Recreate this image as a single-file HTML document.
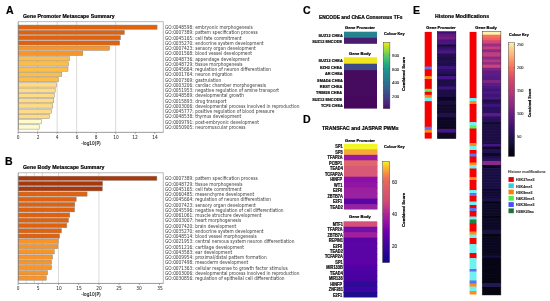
<!DOCTYPE html>
<html><head><meta charset="utf-8"><title>Figure</title>
<style>html,body{margin:0;padding:0;background:#fff;width:550px;height:301px;overflow:hidden;position:relative}svg{display:block;position:absolute;left:0;top:0}.t{position:absolute;white-space:nowrap;line-height:1;transform-origin:0 0}</style>
</head><body>
<svg width="550" height="301" viewBox="0 0 550 301"><line x1="37.62" y1="21.65" x2="37.62" y2="132.35" stroke="#d0d0d0" stroke-width="0.8" />
<line x1="57.14" y1="21.65" x2="57.14" y2="132.35" stroke="#d0d0d0" stroke-width="0.8" />
<line x1="76.66" y1="21.65" x2="76.66" y2="132.35" stroke="#d0d0d0" stroke-width="0.8" />
<line x1="115.70" y1="21.65" x2="115.70" y2="132.35" stroke="#d0d0d0" stroke-width="0.8" />
<rect x="18.20" y="25.05" width="138.90" height="4.3" fill="#E0620F" stroke="#8c857e" stroke-width="0.45"/>
<rect x="18.20" y="30.30" width="106.20" height="4.3" fill="#E0620F" stroke="#8c857e" stroke-width="0.45"/>
<rect x="18.20" y="35.55" width="102.30" height="4.3" fill="#E0620F" stroke="#8c857e" stroke-width="0.45"/>
<rect x="18.20" y="40.80" width="101.50" height="4.3" fill="#E0620F" stroke="#8c857e" stroke-width="0.45"/>
<rect x="18.20" y="46.05" width="91.40" height="4.3" fill="#F7952B" stroke="#8c857e" stroke-width="0.45"/>
<rect x="18.20" y="51.30" width="64.60" height="4.3" fill="#F7952B" stroke="#8c857e" stroke-width="0.45"/>
<rect x="18.20" y="56.55" width="51.40" height="4.3" fill="#FDBE48" stroke="#8c857e" stroke-width="0.45"/>
<rect x="18.20" y="61.80" width="50.40" height="4.3" fill="#FDBE48" stroke="#8c857e" stroke-width="0.45"/>
<rect x="18.20" y="67.05" width="49.80" height="4.3" fill="#FDBE48" stroke="#8c857e" stroke-width="0.45"/>
<rect x="18.20" y="72.30" width="43.60" height="4.3" fill="#FDBE48" stroke="#8c857e" stroke-width="0.45"/>
<rect x="18.20" y="77.55" width="40.30" height="4.3" fill="#FDBE48" stroke="#8c857e" stroke-width="0.45"/>
<rect x="18.20" y="82.80" width="38.10" height="4.3" fill="#FEDB86" stroke="#8c857e" stroke-width="0.45"/>
<rect x="18.20" y="88.05" width="37.00" height="4.3" fill="#FEDB86" stroke="#8c857e" stroke-width="0.45"/>
<rect x="18.20" y="93.30" width="36.20" height="4.3" fill="#FEDB86" stroke="#8c857e" stroke-width="0.45"/>
<rect x="18.20" y="98.55" width="35.60" height="4.3" fill="#FEDB86" stroke="#8c857e" stroke-width="0.45"/>
<rect x="18.20" y="103.80" width="34.60" height="4.3" fill="#FEDB86" stroke="#8c857e" stroke-width="0.45"/>
<rect x="18.20" y="109.05" width="33.40" height="4.3" fill="#FEDB86" stroke="#8c857e" stroke-width="0.45"/>
<rect x="18.20" y="114.30" width="31.20" height="4.3" fill="#FEDB86" stroke="#8c857e" stroke-width="0.45"/>
<rect x="18.20" y="119.55" width="23.20" height="4.3" fill="#FFFBCB" stroke="#8c857e" stroke-width="0.45"/>
<rect x="18.20" y="124.80" width="21.00" height="4.3" fill="#FFFBCB" stroke="#8c857e" stroke-width="0.45"/>
<line x1="18.20" y1="21.65" x2="163.30" y2="21.65" stroke="#8c8c8c" stroke-width="0.6" />
<line x1="163.30" y1="21.65" x2="163.30" y2="132.35" stroke="#8c8c8c" stroke-width="0.6" />
<line x1="18.20" y1="21.65" x2="18.20" y2="132.35" stroke="#707070" stroke-width="0.7" />
<line x1="18.20" y1="132.35" x2="163.30" y2="132.35" stroke="#707070" stroke-width="0.7" />
<line x1="18.10" y1="132.35" x2="18.10" y2="133.85" stroke="#6a6a6a" stroke-width="0.6" />
<line x1="37.62" y1="132.35" x2="37.62" y2="133.85" stroke="#6a6a6a" stroke-width="0.6" />
<line x1="57.14" y1="132.35" x2="57.14" y2="133.85" stroke="#6a6a6a" stroke-width="0.6" />
<line x1="76.66" y1="132.35" x2="76.66" y2="133.85" stroke="#6a6a6a" stroke-width="0.6" />
<line x1="96.18" y1="132.35" x2="96.18" y2="133.85" stroke="#6a6a6a" stroke-width="0.6" />
<line x1="115.70" y1="132.35" x2="115.70" y2="133.85" stroke="#6a6a6a" stroke-width="0.6" />
<line x1="135.22" y1="132.35" x2="135.22" y2="133.85" stroke="#6a6a6a" stroke-width="0.6" />
<line x1="154.74" y1="132.35" x2="154.74" y2="133.85" stroke="#6a6a6a" stroke-width="0.6" />
<line x1="26.18" y1="172.75" x2="26.18" y2="283.45" stroke="#d0d0d0" stroke-width="0.8" />
<line x1="34.26" y1="172.75" x2="34.26" y2="283.45" stroke="#d0d0d0" stroke-width="0.8" />
<line x1="42.34" y1="172.75" x2="42.34" y2="283.45" stroke="#d0d0d0" stroke-width="0.8" />
<line x1="58.50" y1="172.75" x2="58.50" y2="283.45" stroke="#d0d0d0" stroke-width="0.8" />
<line x1="98.90" y1="172.75" x2="98.90" y2="283.45" stroke="#d0d0d0" stroke-width="0.8" />
<rect x="18.20" y="176.15" width="138.70" height="4.3" fill="#A8380C" stroke="#8c857e" stroke-width="0.45"/>
<rect x="18.20" y="181.40" width="84.40" height="4.3" fill="#A8380C" stroke="#8c857e" stroke-width="0.45"/>
<rect x="18.20" y="186.65" width="84.10" height="4.3" fill="#A8380C" stroke="#8c857e" stroke-width="0.45"/>
<rect x="18.20" y="191.90" width="68.90" height="4.3" fill="#E0620F" stroke="#8c857e" stroke-width="0.45"/>
<rect x="18.20" y="197.15" width="58.00" height="4.3" fill="#E0620F" stroke="#8c857e" stroke-width="0.45"/>
<rect x="18.20" y="202.40" width="56.60" height="4.3" fill="#E0620F" stroke="#8c857e" stroke-width="0.45"/>
<rect x="18.20" y="207.65" width="56.40" height="4.3" fill="#E0620F" stroke="#8c857e" stroke-width="0.45"/>
<rect x="18.20" y="212.90" width="51.60" height="4.3" fill="#E0620F" stroke="#8c857e" stroke-width="0.45"/>
<rect x="18.20" y="218.15" width="50.30" height="4.3" fill="#E0620F" stroke="#8c857e" stroke-width="0.45"/>
<rect x="18.20" y="223.40" width="48.60" height="4.3" fill="#E0620F" stroke="#8c857e" stroke-width="0.45"/>
<rect x="18.20" y="228.65" width="43.30" height="4.3" fill="#E0620F" stroke="#8c857e" stroke-width="0.45"/>
<rect x="18.20" y="233.90" width="41.40" height="4.3" fill="#E0620F" stroke="#8c857e" stroke-width="0.45"/>
<rect x="18.20" y="239.15" width="40.10" height="4.3" fill="#F7952B" stroke="#8c857e" stroke-width="0.45"/>
<rect x="18.20" y="244.40" width="39.70" height="4.3" fill="#F7952B" stroke="#8c857e" stroke-width="0.45"/>
<rect x="18.20" y="249.65" width="36.10" height="4.3" fill="#F7952B" stroke="#8c857e" stroke-width="0.45"/>
<rect x="18.20" y="254.90" width="34.40" height="4.3" fill="#F7952B" stroke="#8c857e" stroke-width="0.45"/>
<rect x="18.20" y="260.15" width="33.40" height="4.3" fill="#F7952B" stroke="#8c857e" stroke-width="0.45"/>
<rect x="18.20" y="265.40" width="33.40" height="4.3" fill="#F7952B" stroke="#8c857e" stroke-width="0.45"/>
<rect x="18.20" y="270.65" width="29.40" height="4.3" fill="#F7952B" stroke="#8c857e" stroke-width="0.45"/>
<rect x="18.20" y="275.90" width="28.10" height="4.3" fill="#F7952B" stroke="#8c857e" stroke-width="0.45"/>
<line x1="18.20" y1="172.75" x2="163.30" y2="172.75" stroke="#8c8c8c" stroke-width="0.6" />
<line x1="163.30" y1="172.75" x2="163.30" y2="283.45" stroke="#8c8c8c" stroke-width="0.6" />
<line x1="18.20" y1="172.75" x2="18.20" y2="283.45" stroke="#707070" stroke-width="0.7" />
<line x1="18.20" y1="283.45" x2="163.30" y2="283.45" stroke="#707070" stroke-width="0.7" />
<line x1="18.10" y1="283.45" x2="18.10" y2="284.95" stroke="#6a6a6a" stroke-width="0.6" />
<line x1="38.30" y1="283.45" x2="38.30" y2="284.95" stroke="#6a6a6a" stroke-width="0.6" />
<line x1="58.50" y1="283.45" x2="58.50" y2="284.95" stroke="#6a6a6a" stroke-width="0.6" />
<line x1="78.70" y1="283.45" x2="78.70" y2="284.95" stroke="#6a6a6a" stroke-width="0.6" />
<line x1="98.90" y1="283.45" x2="98.90" y2="284.95" stroke="#6a6a6a" stroke-width="0.6" />
<line x1="119.10" y1="283.45" x2="119.10" y2="284.95" stroke="#6a6a6a" stroke-width="0.6" />
<line x1="139.30" y1="283.45" x2="139.30" y2="284.95" stroke="#6a6a6a" stroke-width="0.6" />
<line x1="159.50" y1="283.45" x2="159.50" y2="284.95" stroke="#6a6a6a" stroke-width="0.6" />
<rect x="344.00" y="31.70" width="33.00" height="6.85" fill="#25848e" />
<rect x="344.00" y="37.75" width="33.00" height="6.05" fill="#481d6f" />
<rect x="344.00" y="57.30" width="33.00" height="7.21" fill="#f1e51d" />
<rect x="344.00" y="63.71" width="33.00" height="7.21" fill="#3e4989" />
<rect x="344.00" y="70.12" width="33.00" height="7.21" fill="#460b5e" />
<rect x="344.00" y="76.53" width="33.00" height="7.21" fill="#460b5e" />
<rect x="344.00" y="82.94" width="33.00" height="7.21" fill="#460b5e" />
<rect x="344.00" y="89.35" width="33.00" height="7.21" fill="#460b5e" />
<rect x="344.00" y="95.76" width="33.00" height="7.21" fill="#46085c" />
<rect x="344.00" y="102.17" width="33.00" height="6.41" fill="#46085c" />
<defs><linearGradient id="gv" x1="0" y1="0" x2="0" y2="1"><stop offset="0.000" stop-color="#fde725"/><stop offset="0.010" stop-color="#ece51b"/><stop offset="0.054" stop-color="#cae11f"/><stop offset="0.115" stop-color="#9bd93c"/><stop offset="0.190" stop-color="#63cb5f"/><stop offset="0.266" stop-color="#3bbb75"/><stop offset="0.341" stop-color="#21a685"/><stop offset="0.417" stop-color="#20928c"/><stop offset="0.495" stop-color="#25848e"/><stop offset="0.568" stop-color="#2a788e"/><stop offset="0.643" stop-color="#306a8e"/><stop offset="0.719" stop-color="#375a8c"/><stop offset="0.795" stop-color="#404688"/><stop offset="0.870" stop-color="#463480"/><stop offset="0.946" stop-color="#482173"/><stop offset="1.000" stop-color="#460b5e"/></linearGradient></defs>
<rect x="383.20" y="42.40" width="6.70" height="66.20" fill="url(#gv)" stroke="#3a3a3a" stroke-width="0.45"/>
<line x1="383.20" y1="54.70" x2="384.10" y2="54.70" stroke="#333" stroke-width="0.45" />
<line x1="389.00" y1="54.70" x2="389.90" y2="54.70" stroke="#333" stroke-width="0.45" />
<line x1="383.20" y1="68.60" x2="384.10" y2="68.60" stroke="#333" stroke-width="0.45" />
<line x1="389.00" y1="68.60" x2="389.90" y2="68.60" stroke="#333" stroke-width="0.45" />
<line x1="383.20" y1="82.30" x2="384.10" y2="82.30" stroke="#333" stroke-width="0.45" />
<line x1="389.00" y1="82.30" x2="389.90" y2="82.30" stroke="#333" stroke-width="0.45" />
<line x1="383.20" y1="95.60" x2="384.10" y2="95.60" stroke="#333" stroke-width="0.45" />
<line x1="389.00" y1="95.60" x2="389.90" y2="95.60" stroke="#333" stroke-width="0.45" />
<rect x="344.00" y="143.90" width="33.50" height="6.27" fill="#F0F724" />
<rect x="344.00" y="149.37" width="33.50" height="6.27" fill="#F8A838" />
<rect x="344.00" y="154.84" width="33.50" height="6.27" fill="#9A18A8" />
<rect x="344.00" y="160.31" width="33.50" height="6.27" fill="#E06868" />
<rect x="344.00" y="165.78" width="33.50" height="6.27" fill="#D85878" />
<rect x="344.00" y="171.25" width="33.50" height="6.27" fill="#D85878" />
<rect x="344.00" y="176.72" width="33.50" height="6.27" fill="#8C10A8" />
<rect x="344.00" y="182.19" width="33.50" height="6.27" fill="#9216A4" />
<rect x="344.00" y="187.66" width="33.50" height="6.27" fill="#9A20A0" />
<rect x="344.00" y="193.13" width="33.50" height="6.27" fill="#9A22A0" />
<rect x="344.00" y="198.60" width="33.50" height="6.27" fill="#5A06A4" />
<rect x="344.00" y="204.07" width="33.50" height="5.47" fill="#9422A2" />
<rect x="343.50" y="221.30" width="33.80" height="6.24" fill="#D8507A" />
<rect x="343.50" y="226.74" width="33.80" height="6.24" fill="#7010A8" />
<rect x="343.50" y="232.18" width="33.80" height="6.24" fill="#A0209C" />
<rect x="343.50" y="237.62" width="33.80" height="6.24" fill="#5A02A4" />
<rect x="343.50" y="243.06" width="33.80" height="6.24" fill="#5A04A6" />
<rect x="343.50" y="248.50" width="33.80" height="6.24" fill="#5A04A6" />
<rect x="343.50" y="253.94" width="33.80" height="6.24" fill="#5A04A6" />
<rect x="343.50" y="259.38" width="33.80" height="6.24" fill="#5C02A6" />
<rect x="343.50" y="264.82" width="33.80" height="6.24" fill="#5002A4" />
<rect x="343.50" y="270.26" width="33.80" height="6.24" fill="#4C02A2" />
<rect x="343.50" y="275.70" width="33.80" height="6.24" fill="#4802A0" />
<rect x="343.50" y="281.14" width="33.80" height="6.24" fill="#2E0A96" />
<rect x="343.50" y="286.58" width="33.80" height="6.24" fill="#3C04A0" />
<rect x="343.50" y="292.02" width="33.80" height="5.44" fill="#1E0C8E" />
<defs><linearGradient id="gp" x1="0" y1="0" x2="0" y2="1"><stop offset="0.000" stop-color="#f0f921"/><stop offset="0.037" stop-color="#fcce25"/><stop offset="0.086" stop-color="#fca636"/><stop offset="0.135" stop-color="#f2844b"/><stop offset="0.180" stop-color="#e76e5b"/><stop offset="0.230" stop-color="#e16462"/><stop offset="0.280" stop-color="#da5b69"/><stop offset="0.330" stop-color="#d5536f"/><stop offset="0.380" stop-color="#d04d73"/><stop offset="0.430" stop-color="#c6417d"/><stop offset="0.480" stop-color="#b6308b"/><stop offset="0.520" stop-color="#ad2793"/><stop offset="0.580" stop-color="#9a169f"/><stop offset="0.630" stop-color="#8d0ba5"/><stop offset="0.680" stop-color="#7501a8"/><stop offset="0.720" stop-color="#6600a7"/><stop offset="0.770" stop-color="#5601a4"/><stop offset="0.820" stop-color="#41049d"/><stop offset="0.870" stop-color="#330597"/><stop offset="0.920" stop-color="#260591"/><stop offset="1.000" stop-color="#0d0887"/></linearGradient></defs>
<rect x="382.60" y="161.30" width="7.00" height="101.30" fill="url(#gp)" stroke="#3a3a3a" stroke-width="0.45"/>
<line x1="382.60" y1="181.90" x2="383.50" y2="181.90" stroke="#333" stroke-width="0.45" />
<line x1="388.70" y1="181.90" x2="389.60" y2="181.90" stroke="#333" stroke-width="0.45" />
<line x1="382.60" y1="214.20" x2="383.50" y2="214.20" stroke="#333" stroke-width="0.45" />
<line x1="388.70" y1="214.20" x2="389.60" y2="214.20" stroke="#333" stroke-width="0.45" />
<line x1="382.60" y1="246.60" x2="383.50" y2="246.60" stroke="#333" stroke-width="0.45" />
<line x1="388.70" y1="246.60" x2="389.60" y2="246.60" stroke="#333" stroke-width="0.45" />
<rect x="424.70" y="31.90" width="7.10" height="35.40" fill="#F50000" />
<rect x="424.70" y="66.50" width="7.10" height="3.70" fill="#6070F0" />
<rect x="424.70" y="69.40" width="7.10" height="7.40" fill="#F50000" />
<rect x="424.70" y="76.00" width="7.10" height="3.80" fill="#FF8C1A" />
<rect x="424.70" y="79.00" width="7.10" height="10.60" fill="#F50000" />
<rect x="424.70" y="88.80" width="7.10" height="3.80" fill="#5CF05C" />
<rect x="424.70" y="91.80" width="7.10" height="3.80" fill="#F50000" />
<rect x="424.70" y="94.80" width="7.10" height="3.70" fill="#FF8C1A" />
<rect x="424.70" y="97.70" width="7.10" height="4.30" fill="#70F0F0" />
<rect x="424.70" y="101.20" width="7.10" height="26.30" fill="#F50000" />
<rect x="424.70" y="126.70" width="7.10" height="3.90" fill="#6070F0" />
<rect x="424.70" y="129.80" width="7.10" height="3.60" fill="#FF8C1A" />
<rect x="424.70" y="132.60" width="7.10" height="6.00" fill="#F50000" />
<rect x="437.30" y="31.60" width="18.60" height="2.70" fill="#3A1070" />
<rect x="437.30" y="33.50" width="18.60" height="3.80" fill="#64197E" />
<rect x="437.30" y="36.50" width="18.60" height="3.80" fill="#70207F" />
<rect x="437.30" y="39.50" width="18.60" height="3.30" fill="#4A1478" />
<rect x="437.30" y="42.00" width="18.60" height="3.30" fill="#4C1680" />
<rect x="437.30" y="44.50" width="18.60" height="2.80" fill="#1A0C3A" />
<rect x="437.30" y="46.50" width="18.60" height="2.80" fill="#2E1060" />
<rect x="437.30" y="48.50" width="18.60" height="2.80" fill="#3A1270" />
<rect x="437.30" y="50.50" width="18.60" height="3.30" fill="#4A1680" />
<rect x="437.30" y="53.00" width="18.60" height="1.80" fill="#3A1274" />
<rect x="437.30" y="54.00" width="18.60" height="3.80" fill="#241050" />
<rect x="437.30" y="57.00" width="18.60" height="3.80" fill="#1E0E48" />
<rect x="437.30" y="60.00" width="18.60" height="3.80" fill="#22104E" />
<rect x="437.30" y="63.00" width="18.60" height="3.80" fill="#1E0E4A" />
<rect x="437.30" y="66.00" width="18.60" height="3.80" fill="#3E1280" />
<rect x="437.30" y="69.00" width="18.60" height="3.30" fill="#2A1262" />
<rect x="437.30" y="71.50" width="18.60" height="3.30" fill="#241054" />
<rect x="437.30" y="74.00" width="18.60" height="2.80" fill="#1A0C40" />
<rect x="437.30" y="76.00" width="18.60" height="3.80" fill="#46148A" />
<rect x="437.30" y="79.00" width="18.60" height="1.30" fill="#3A1278" />
<rect x="437.30" y="79.50" width="18.60" height="7.80" fill="#1E0E48" />
<rect x="437.30" y="86.50" width="18.60" height="3.80" fill="#3C1480" />
<rect x="437.30" y="89.50" width="18.60" height="8.30" fill="#1C0E44" />
<rect x="437.30" y="97.00" width="18.60" height="4.30" fill="#0A0620" />
<rect x="437.30" y="100.50" width="18.60" height="4.30" fill="#1A0C40" />
<rect x="437.30" y="104.00" width="18.60" height="2.18" fill="#180B36" />
<rect x="437.30" y="105.38" width="18.60" height="2.18" fill="#100826" />
<rect x="437.30" y="106.76" width="18.60" height="2.18" fill="#180B36" />
<rect x="437.30" y="108.14" width="18.60" height="2.18" fill="#100826" />
<rect x="437.30" y="109.52" width="18.60" height="2.18" fill="#180B36" />
<rect x="437.30" y="110.90" width="18.60" height="2.18" fill="#100826" />
<rect x="437.30" y="112.28" width="18.60" height="1.52" fill="#180B36" />
<rect x="437.30" y="113.00" width="18.60" height="4.80" fill="#1E1248" />
<rect x="437.30" y="117.00" width="18.60" height="2.18" fill="#120A2C" />
<rect x="437.30" y="118.38" width="18.60" height="2.18" fill="#0A061C" />
<rect x="437.30" y="119.76" width="18.60" height="2.18" fill="#120A2C" />
<rect x="437.30" y="121.14" width="18.60" height="2.18" fill="#0A061C" />
<rect x="437.30" y="122.52" width="18.60" height="2.18" fill="#120A2C" />
<rect x="437.30" y="123.90" width="18.60" height="2.18" fill="#0A061C" />
<rect x="437.30" y="125.28" width="18.60" height="2.18" fill="#120A2C" />
<rect x="437.30" y="126.66" width="18.60" height="2.18" fill="#0A061C" />
<rect x="437.30" y="128.04" width="18.60" height="1.76" fill="#120A2C" />
<rect x="437.30" y="129.00" width="18.60" height="4.40" fill="#48148A" />
<rect x="437.30" y="132.60" width="18.60" height="6.00" fill="#0E0820" />
<rect x="437.3" y="31.6" width="18.6" height="107" fill="none" stroke="#000" stroke-width="0.45"/>
<rect x="469.60" y="31.90" width="6.90" height="66.90" fill="#F50000" />
<rect x="469.60" y="98.00" width="6.90" height="3.80" fill="#70F0F0" />
<rect x="469.60" y="101.00" width="6.90" height="3.80" fill="#FF8C1A" />
<rect x="469.60" y="104.00" width="6.90" height="18.80" fill="#F50000" />
<rect x="469.60" y="122.00" width="6.90" height="4.30" fill="#70F0F0" />
<rect x="469.60" y="125.50" width="6.90" height="3.80" fill="#5CF05C" />
<rect x="469.60" y="128.50" width="6.90" height="15.30" fill="#F50000" />
<rect x="469.60" y="143.00" width="6.90" height="3.80" fill="#FF8C1A" />
<rect x="469.60" y="146.00" width="6.90" height="4.80" fill="#70F0F0" />
<rect x="469.60" y="150.00" width="6.90" height="4.30" fill="#F50000" />
<rect x="469.60" y="153.50" width="6.90" height="3.80" fill="#6070F0" />
<rect x="469.60" y="156.50" width="6.90" height="6.80" fill="#F50000" />
<rect x="469.60" y="162.50" width="6.90" height="3.30" fill="#FF8C1A" />
<rect x="469.60" y="165.00" width="6.90" height="4.30" fill="#70F0F0" />
<rect x="469.60" y="168.50" width="6.90" height="9.30" fill="#F50000" />
<rect x="469.60" y="177.00" width="6.90" height="3.80" fill="#FF8C1A" />
<rect x="469.60" y="180.00" width="6.90" height="10.80" fill="#F50000" />
<rect x="469.60" y="190.00" width="6.90" height="3.80" fill="#70F0F0" />
<rect x="469.60" y="193.00" width="6.90" height="3.80" fill="#6070F0" />
<rect x="469.60" y="196.00" width="6.90" height="6.30" fill="#F50000" />
<rect x="469.60" y="201.50" width="6.90" height="4.30" fill="#70F0F0" />
<rect x="469.60" y="205.00" width="6.90" height="3.80" fill="#F50000" />
<rect x="469.60" y="208.00" width="6.90" height="3.80" fill="#6070F0" />
<rect x="469.60" y="211.00" width="6.90" height="6.30" fill="#F50000" />
<rect x="469.60" y="216.50" width="6.90" height="3.80" fill="#70F0F0" />
<rect x="469.60" y="219.50" width="6.90" height="4.80" fill="#208040" />
<rect x="469.60" y="223.50" width="6.90" height="8.80" fill="#F50000" />
<rect x="469.60" y="231.50" width="6.90" height="3.80" fill="#FF8C1A" />
<rect x="469.60" y="234.50" width="6.90" height="4.30" fill="#70F0F0" />
<rect x="469.60" y="238.00" width="6.90" height="6.80" fill="#F50000" />
<rect x="469.60" y="244.00" width="6.90" height="9.80" fill="#70F0F0" />
<rect x="469.60" y="253.00" width="6.90" height="5.80" fill="#F50000" />
<rect x="469.60" y="258.00" width="6.90" height="11.80" fill="#70F0F0" />
<rect x="469.60" y="269.00" width="6.90" height="3.30" fill="#6070F0" />
<rect x="469.60" y="271.50" width="6.90" height="9.80" fill="#70F0F0" />
<rect x="469.60" y="280.50" width="6.90" height="3.80" fill="#6070F0" />
<rect x="469.60" y="283.50" width="6.90" height="3.80" fill="#FF8C1A" />
<rect x="469.60" y="286.50" width="6.90" height="5.30" fill="#70F0F0" />
<rect x="469.60" y="291.00" width="6.90" height="3.50" fill="#FF8C1A" />
<rect x="482.20" y="31.60" width="18.70" height="3.90" fill="#FBF3B0" />
<rect x="482.20" y="34.70" width="18.70" height="3.90" fill="#F8705E" />
<rect x="482.20" y="37.80" width="18.70" height="3.30" fill="#F0605E" />
<rect x="482.20" y="40.30" width="18.70" height="4.00" fill="#D0487A" />
<rect x="482.20" y="43.50" width="18.70" height="3.80" fill="#9A2E86" />
<rect x="482.20" y="46.50" width="18.70" height="3.60" fill="#C3417E" />
<rect x="482.20" y="49.30" width="18.70" height="3.70" fill="#8C2A86" />
<rect x="482.20" y="52.20" width="18.70" height="5.20" fill="#C0407E" />
<rect x="482.20" y="56.60" width="18.70" height="3.60" fill="#8A2A86" />
<rect x="482.20" y="59.40" width="18.70" height="3.60" fill="#B23A80" />
<rect x="482.20" y="62.20" width="18.70" height="3.20" fill="#902C86" />
<rect x="482.20" y="64.60" width="18.70" height="4.00" fill="#CC4478" />
<rect x="482.20" y="67.80" width="18.70" height="3.60" fill="#7A2486" />
<rect x="482.20" y="70.60" width="18.70" height="3.70" fill="#601C84" />
<rect x="482.20" y="73.50" width="18.70" height="3.80" fill="#5C1C84" />
<rect x="482.20" y="76.50" width="18.70" height="4.30" fill="#541A82" />
<rect x="482.20" y="80.00" width="18.70" height="3.80" fill="#7E2684" />
<rect x="482.20" y="83.00" width="18.70" height="3.80" fill="#5A1C86" />
<rect x="482.20" y="86.00" width="18.70" height="3.30" fill="#4E1882" />
<rect x="482.20" y="88.50" width="18.70" height="3.30" fill="#3E1478" />
<rect x="482.20" y="91.00" width="18.70" height="3.80" fill="#4A1880" />
<rect x="482.20" y="94.00" width="18.70" height="3.80" fill="#3E1478" />
<rect x="482.20" y="97.00" width="18.70" height="3.30" fill="#4A1880" />
<rect x="482.20" y="99.50" width="18.70" height="3.30" fill="#1E0E44" />
<rect x="482.20" y="102.00" width="18.70" height="2.80" fill="#2A1058" />
<rect x="482.20" y="104.00" width="18.70" height="3.80" fill="#3A1478" />
<rect x="482.20" y="107.00" width="18.70" height="6.80" fill="#2A105F" />
<rect x="482.20" y="113.00" width="18.70" height="4.30" fill="#5A1A8A" />
<rect x="482.20" y="116.50" width="18.70" height="3.30" fill="#2A1060" />
<rect x="482.20" y="119.00" width="18.70" height="3.80" fill="#261058" />
<rect x="482.20" y="122.00" width="18.70" height="3.30" fill="#120A30" />
<rect x="482.20" y="124.50" width="18.70" height="2.18" fill="#22104E" />
<rect x="482.20" y="125.88" width="18.70" height="2.18" fill="#1A0C40" />
<rect x="482.20" y="127.26" width="18.70" height="2.18" fill="#22104E" />
<rect x="482.20" y="128.64" width="18.70" height="2.18" fill="#1A0C40" />
<rect x="482.20" y="130.02" width="18.70" height="2.18" fill="#22104E" />
<rect x="482.20" y="131.40" width="18.70" height="2.18" fill="#1A0C40" />
<rect x="482.20" y="132.78" width="18.70" height="2.18" fill="#22104E" />
<rect x="482.20" y="134.16" width="18.70" height="2.18" fill="#1A0C40" />
<rect x="482.20" y="135.54" width="18.70" height="2.18" fill="#22104E" />
<rect x="482.20" y="136.92" width="18.70" height="2.18" fill="#1A0C40" />
<rect x="482.20" y="138.30" width="18.70" height="2.18" fill="#22104E" />
<rect x="482.20" y="139.68" width="18.70" height="2.18" fill="#1A0C40" />
<rect x="482.20" y="141.06" width="18.70" height="2.18" fill="#22104E" />
<rect x="482.20" y="142.44" width="18.70" height="2.18" fill="#1A0C40" />
<rect x="482.20" y="143.82" width="18.70" height="0.98" fill="#22104E" />
<rect x="482.20" y="144.00" width="18.70" height="3.30" fill="#44148A" />
<rect x="482.20" y="146.50" width="18.70" height="3.30" fill="#0E0826" />
<rect x="482.20" y="149.00" width="18.70" height="4.80" fill="#201050" />
<rect x="482.20" y="153.00" width="18.70" height="3.80" fill="#0E0828" />
<rect x="482.20" y="156.00" width="18.70" height="3.30" fill="#1E0E48" />
<rect x="482.20" y="158.50" width="18.70" height="3.30" fill="#2A1260" />
<rect x="482.20" y="161.00" width="18.70" height="4.80" fill="#8A2890" />
<rect x="482.20" y="165.00" width="18.70" height="3.80" fill="#080616" />
<rect x="482.20" y="168.00" width="18.70" height="2.18" fill="#1E1250" />
<rect x="482.20" y="169.38" width="18.70" height="2.18" fill="#170D3C" />
<rect x="482.20" y="170.76" width="18.70" height="2.18" fill="#1E1250" />
<rect x="482.20" y="172.14" width="18.70" height="2.18" fill="#170D3C" />
<rect x="482.20" y="173.52" width="18.70" height="2.18" fill="#1E1250" />
<rect x="482.20" y="174.90" width="18.70" height="2.18" fill="#170D3C" />
<rect x="482.20" y="176.28" width="18.70" height="2.18" fill="#1E1250" />
<rect x="482.20" y="177.66" width="18.70" height="2.18" fill="#170D3C" />
<rect x="482.20" y="179.04" width="18.70" height="2.18" fill="#1E1250" />
<rect x="482.20" y="180.42" width="18.70" height="2.18" fill="#170D3C" />
<rect x="482.20" y="181.80" width="18.70" height="2.18" fill="#1E1250" />
<rect x="482.20" y="183.18" width="18.70" height="2.18" fill="#170D3C" />
<rect x="482.20" y="184.56" width="18.70" height="2.18" fill="#1E1250" />
<rect x="482.20" y="185.94" width="18.70" height="2.18" fill="#170D3C" />
<rect x="482.20" y="187.32" width="18.70" height="2.18" fill="#1E1250" />
<rect x="482.20" y="188.70" width="18.70" height="1.10" fill="#170D3C" />
<rect x="482.20" y="189.00" width="18.70" height="2.30" fill="#0A0620" />
<rect x="482.20" y="190.50" width="18.70" height="2.18" fill="#180E40" />
<rect x="482.20" y="191.88" width="18.70" height="2.18" fill="#100A30" />
<rect x="482.20" y="193.26" width="18.70" height="2.18" fill="#180E40" />
<rect x="482.20" y="194.64" width="18.70" height="2.18" fill="#100A30" />
<rect x="482.20" y="196.02" width="18.70" height="2.18" fill="#180E40" />
<rect x="482.20" y="197.40" width="18.70" height="1.40" fill="#100A30" />
<rect x="482.20" y="198.00" width="18.70" height="4.30" fill="#1A1048" />
<rect x="482.20" y="201.50" width="18.70" height="2.80" fill="#06040F" />
<rect x="482.20" y="203.50" width="18.70" height="2.18" fill="#120E30" />
<rect x="482.20" y="204.88" width="18.70" height="2.18" fill="#0A0820" />
<rect x="482.20" y="206.26" width="18.70" height="2.18" fill="#120E30" />
<rect x="482.20" y="207.64" width="18.70" height="2.18" fill="#0A0820" />
<rect x="482.20" y="209.02" width="18.70" height="2.18" fill="#120E30" />
<rect x="482.20" y="210.40" width="18.70" height="2.18" fill="#0A0820" />
<rect x="482.20" y="211.78" width="18.70" height="2.18" fill="#120E30" />
<rect x="482.20" y="213.16" width="18.70" height="2.18" fill="#0A0820" />
<rect x="482.20" y="214.54" width="18.70" height="2.18" fill="#120E30" />
<rect x="482.20" y="215.92" width="18.70" height="0.88" fill="#0A0820" />
<rect x="482.20" y="216.00" width="18.70" height="2.80" fill="#06040F" />
<rect x="482.20" y="218.00" width="18.70" height="2.18" fill="#100C2C" />
<rect x="482.20" y="219.38" width="18.70" height="2.18" fill="#0A0822" />
<rect x="482.20" y="220.76" width="18.70" height="2.18" fill="#100C2C" />
<rect x="482.20" y="222.14" width="18.70" height="2.18" fill="#0A0822" />
<rect x="482.20" y="223.52" width="18.70" height="2.18" fill="#100C2C" />
<rect x="482.20" y="224.90" width="18.70" height="2.18" fill="#0A0822" />
<rect x="482.20" y="226.28" width="18.70" height="2.18" fill="#100C2C" />
<rect x="482.20" y="227.66" width="18.70" height="2.18" fill="#0A0822" />
<rect x="482.20" y="229.04" width="18.70" height="1.76" fill="#100C2C" />
<rect x="482.20" y="230.00" width="18.70" height="4.80" fill="#18123E" />
<rect x="482.20" y="234.00" width="18.70" height="3.30" fill="#06040F" />
<rect x="482.20" y="236.50" width="18.70" height="2.18" fill="#0E0A26" />
<rect x="482.20" y="237.88" width="18.70" height="2.18" fill="#08061A" />
<rect x="482.20" y="239.26" width="18.70" height="2.18" fill="#0E0A26" />
<rect x="482.20" y="240.64" width="18.70" height="2.18" fill="#08061A" />
<rect x="482.20" y="242.02" width="18.70" height="2.18" fill="#0E0A26" />
<rect x="482.20" y="243.40" width="18.70" height="2.18" fill="#08061A" />
<rect x="482.20" y="244.78" width="18.70" height="2.18" fill="#0E0A26" />
<rect x="482.20" y="246.16" width="18.70" height="2.18" fill="#08061A" />
<rect x="482.20" y="247.54" width="18.70" height="2.18" fill="#0E0A26" />
<rect x="482.20" y="248.92" width="18.70" height="2.18" fill="#08061A" />
<rect x="482.20" y="250.30" width="18.70" height="2.18" fill="#0E0A26" />
<rect x="482.20" y="251.68" width="18.70" height="2.18" fill="#08061A" />
<rect x="482.20" y="253.06" width="18.70" height="2.18" fill="#0E0A26" />
<rect x="482.20" y="254.44" width="18.70" height="1.86" fill="#08061A" />
<rect x="482.20" y="255.50" width="18.70" height="2.80" fill="#161040" />
<rect x="482.20" y="257.50" width="18.70" height="2.18" fill="#08061A" />
<rect x="482.20" y="258.88" width="18.70" height="2.18" fill="#050410" />
<rect x="482.20" y="260.26" width="18.70" height="2.18" fill="#08061A" />
<rect x="482.20" y="261.64" width="18.70" height="2.18" fill="#050410" />
<rect x="482.20" y="263.02" width="18.70" height="2.18" fill="#08061A" />
<rect x="482.20" y="264.40" width="18.70" height="2.18" fill="#050410" />
<rect x="482.20" y="265.78" width="18.70" height="2.18" fill="#08061A" />
<rect x="482.20" y="267.16" width="18.70" height="2.18" fill="#050410" />
<rect x="482.20" y="268.54" width="18.70" height="2.18" fill="#08061A" />
<rect x="482.20" y="269.92" width="18.70" height="2.18" fill="#050410" />
<rect x="482.20" y="271.30" width="18.70" height="2.18" fill="#08061A" />
<rect x="482.20" y="272.68" width="18.70" height="2.18" fill="#050410" />
<rect x="482.20" y="274.06" width="18.70" height="2.18" fill="#08061A" />
<rect x="482.20" y="275.44" width="18.70" height="2.18" fill="#050410" />
<rect x="482.20" y="276.82" width="18.70" height="2.18" fill="#08061A" />
<rect x="482.20" y="278.20" width="18.70" height="2.18" fill="#050410" />
<rect x="482.20" y="279.58" width="18.70" height="2.18" fill="#08061A" />
<rect x="482.20" y="280.96" width="18.70" height="2.18" fill="#050410" />
<rect x="482.20" y="282.34" width="18.70" height="1.46" fill="#08061A" />
<rect x="482.20" y="283.00" width="18.70" height="4.80" fill="#201A50" />
<rect x="482.20" y="287.00" width="18.70" height="8.00" fill="#060410" />
<rect x="482.2" y="31.6" width="18.7" height="263.4" fill="none" stroke="#222" stroke-width="0.45"/>
<defs><linearGradient id="gm" x1="0" y1="0" x2="0" y2="1"><stop offset="0.000" stop-color="#fcf9bb"/><stop offset="0.007" stop-color="#fcf0b2"/><stop offset="0.047" stop-color="#fecf92"/><stop offset="0.082" stop-color="#fec185"/><stop offset="0.117" stop-color="#feae77"/><stop offset="0.152" stop-color="#fd9668"/><stop offset="0.196" stop-color="#fa7d5e"/><stop offset="0.223" stop-color="#f7705c"/><stop offset="0.258" stop-color="#ef5d5e"/><stop offset="0.293" stop-color="#e44f64"/><stop offset="0.328" stop-color="#d6456c"/><stop offset="0.372" stop-color="#ca3e72"/><stop offset="0.416" stop-color="#bf3a77"/><stop offset="0.460" stop-color="#ad347c"/><stop offset="0.504" stop-color="#9c2e7f"/><stop offset="0.548" stop-color="#8c2981"/><stop offset="0.592" stop-color="#782281"/><stop offset="0.636" stop-color="#681c81"/><stop offset="0.680" stop-color="#59157e"/><stop offset="0.750" stop-color="#3b0f70"/><stop offset="0.812" stop-color="#251255"/><stop offset="0.856" stop-color="#1a1042"/><stop offset="0.900" stop-color="#120d31"/><stop offset="0.944" stop-color="#06051a"/><stop offset="0.988" stop-color="#02020b"/><stop offset="1.000" stop-color="#010106"/></linearGradient></defs>
<rect x="508.40" y="42.70" width="6.20" height="113.70" fill="url(#gm)" stroke="#3a3a3a" stroke-width="0.45"/>
<line x1="508.40" y1="44.50" x2="509.30" y2="44.50" stroke="#333" stroke-width="0.45" />
<line x1="513.70" y1="44.50" x2="514.60" y2="44.50" stroke="#333" stroke-width="0.45" />
<line x1="508.40" y1="67.60" x2="509.30" y2="67.60" stroke="#333" stroke-width="0.45" />
<line x1="513.70" y1="67.60" x2="514.60" y2="67.60" stroke="#333" stroke-width="0.45" />
<line x1="508.40" y1="90.80" x2="509.30" y2="90.80" stroke="#333" stroke-width="0.45" />
<line x1="513.70" y1="90.80" x2="514.60" y2="90.80" stroke="#333" stroke-width="0.45" />
<line x1="508.40" y1="113.90" x2="509.30" y2="113.90" stroke="#333" stroke-width="0.45" />
<line x1="513.70" y1="113.90" x2="514.60" y2="113.90" stroke="#333" stroke-width="0.45" />
<line x1="508.40" y1="136.90" x2="509.30" y2="136.90" stroke="#333" stroke-width="0.45" />
<line x1="513.70" y1="136.90" x2="514.60" y2="136.90" stroke="#333" stroke-width="0.45" />
<rect x="508.50" y="177.10" width="5.30" height="4.80" fill="#E00010" />
<rect x="508.50" y="183.36" width="5.30" height="4.80" fill="#38CCD4" />
<rect x="508.50" y="189.62" width="5.30" height="4.80" fill="#F88010" />
<rect x="508.50" y="195.88" width="5.30" height="4.80" fill="#48F048" />
<rect x="508.50" y="202.14" width="5.30" height="4.80" fill="#4C4CF8" />
<rect x="508.50" y="208.40" width="5.30" height="4.80" fill="#1C7232" /></svg>
<div class="t" style="font-family:'Liberation Sans',Arial,sans-serif;font-size:106.0px;font-weight:bold;color:#000;-webkit-text-stroke:2.0px #000;left:5.50px;top:4.63px;transform:scale(0.1,0.1000);">A</div>
<div class="t" style="font-family:'Liberation Sans',Arial,sans-serif;font-size:106.0px;font-weight:bold;color:#000;-webkit-text-stroke:2.0px #000;left:5.00px;top:155.83px;transform:scale(0.1,0.1000);">B</div>
<div class="t" style="font-family:'Liberation Sans',Arial,sans-serif;font-size:106.0px;font-weight:bold;color:#000;-webkit-text-stroke:2.0px #000;left:302.90px;top:4.63px;transform:scale(0.1,0.1000);">C</div>
<div class="t" style="font-family:'Liberation Sans',Arial,sans-serif;font-size:106.0px;font-weight:bold;color:#000;-webkit-text-stroke:2.0px #000;left:302.80px;top:114.03px;transform:scale(0.1,0.1000);">D</div>
<div class="t" style="font-family:'Liberation Sans',Arial,sans-serif;font-size:106.0px;font-weight:bold;color:#000;-webkit-text-stroke:2.0px #000;left:413.10px;top:4.73px;transform:scale(0.1,0.1000);">E</div>
<div class="t" style="font-family:'Liberation Sans',Arial,sans-serif;font-size:52.5px;font-weight:bold;color:#000;-webkit-text-stroke:2.0px #000;left:22.60px;top:13.76px;transform:scale(0.1,0.1000);">Gene Promoter Metascape Summary</div>
<div class="t" style="font-family:'DejaVu Sans',sans-serif;font-size:43.0px;font-weight:normal;color:#333;-webkit-text-stroke:0.5px #333;left:18.10px;top:134.98px;transform:scale(0.1,0.1120) translateX(-50%);">0</div>
<div class="t" style="font-family:'DejaVu Sans',sans-serif;font-size:43.0px;font-weight:normal;color:#333;-webkit-text-stroke:0.5px #333;left:37.62px;top:134.98px;transform:scale(0.1,0.1120) translateX(-50%);">2</div>
<div class="t" style="font-family:'DejaVu Sans',sans-serif;font-size:43.0px;font-weight:normal;color:#333;-webkit-text-stroke:0.5px #333;left:57.14px;top:134.98px;transform:scale(0.1,0.1120) translateX(-50%);">4</div>
<div class="t" style="font-family:'DejaVu Sans',sans-serif;font-size:43.0px;font-weight:normal;color:#333;-webkit-text-stroke:0.5px #333;left:76.66px;top:134.98px;transform:scale(0.1,0.1120) translateX(-50%);">6</div>
<div class="t" style="font-family:'DejaVu Sans',sans-serif;font-size:43.0px;font-weight:normal;color:#333;-webkit-text-stroke:0.5px #333;left:96.18px;top:134.98px;transform:scale(0.1,0.1120) translateX(-50%);">8</div>
<div class="t" style="font-family:'DejaVu Sans',sans-serif;font-size:43.0px;font-weight:normal;color:#333;-webkit-text-stroke:0.5px #333;left:115.70px;top:134.98px;transform:scale(0.1,0.1120) translateX(-50%);">10</div>
<div class="t" style="font-family:'DejaVu Sans',sans-serif;font-size:43.0px;font-weight:normal;color:#333;-webkit-text-stroke:0.5px #333;left:135.22px;top:134.98px;transform:scale(0.1,0.1120) translateX(-50%);">12</div>
<div class="t" style="font-family:'DejaVu Sans',sans-serif;font-size:43.0px;font-weight:normal;color:#333;-webkit-text-stroke:0.5px #333;left:154.74px;top:134.98px;transform:scale(0.1,0.1120) translateX(-50%);">14</div>
<div class="t" style="font-family:'DejaVu Sans',sans-serif;font-size:42.5px;font-weight:normal;color:#222;-webkit-text-stroke:1.2px #222;left:91.40px;top:140.72px;transform:scale(0.1,0.1120) translateX(-50%);">-log10(P)</div>
<div class="t" style="font-family:'DejaVu Sans',sans-serif;font-size:43.2px;font-weight:normal;color:#4a4a4a;-webkit-text-stroke:0.3px #4a4a4a;left:165.00px;top:25.16px;transform:scale(0.1,0.1120);">GO:0048598: embryonic morphogenesis</div>
<div class="t" style="font-family:'DejaVu Sans',sans-serif;font-size:43.2px;font-weight:normal;color:#4a4a4a;-webkit-text-stroke:0.3px #4a4a4a;left:165.00px;top:30.41px;transform:scale(0.1,0.1120);">GO:0007389: pattern specification process</div>
<div class="t" style="font-family:'DejaVu Sans',sans-serif;font-size:43.2px;font-weight:normal;color:#4a4a4a;-webkit-text-stroke:0.3px #4a4a4a;left:165.00px;top:35.66px;transform:scale(0.1,0.1120);">GO:0045165: cell fate commitment</div>
<div class="t" style="font-family:'DejaVu Sans',sans-serif;font-size:43.2px;font-weight:normal;color:#4a4a4a;-webkit-text-stroke:0.3px #4a4a4a;left:165.00px;top:40.91px;transform:scale(0.1,0.1120);">GO:0035270: endocrine system development</div>
<div class="t" style="font-family:'DejaVu Sans',sans-serif;font-size:43.2px;font-weight:normal;color:#4a4a4a;-webkit-text-stroke:0.3px #4a4a4a;left:165.00px;top:46.16px;transform:scale(0.1,0.1120);">GO:0007423: sensory organ development</div>
<div class="t" style="font-family:'DejaVu Sans',sans-serif;font-size:43.2px;font-weight:normal;color:#4a4a4a;-webkit-text-stroke:0.3px #4a4a4a;left:165.00px;top:51.41px;transform:scale(0.1,0.1120);">GO:0001568: blood vessel development</div>
<div class="t" style="font-family:'DejaVu Sans',sans-serif;font-size:43.2px;font-weight:normal;color:#4a4a4a;-webkit-text-stroke:0.3px #4a4a4a;left:165.00px;top:56.66px;transform:scale(0.1,0.1120);">GO:0048736: appendage development</div>
<div class="t" style="font-family:'DejaVu Sans',sans-serif;font-size:43.2px;font-weight:normal;color:#4a4a4a;-webkit-text-stroke:0.3px #4a4a4a;left:165.00px;top:61.91px;transform:scale(0.1,0.1120);">GO:0048729: tissue morphogenesis</div>
<div class="t" style="font-family:'DejaVu Sans',sans-serif;font-size:43.2px;font-weight:normal;color:#4a4a4a;-webkit-text-stroke:0.3px #4a4a4a;left:165.00px;top:67.16px;transform:scale(0.1,0.1120);">GO:0045664: regulation of neuron differentiation</div>
<div class="t" style="font-family:'DejaVu Sans',sans-serif;font-size:43.2px;font-weight:normal;color:#4a4a4a;-webkit-text-stroke:0.3px #4a4a4a;left:165.00px;top:72.41px;transform:scale(0.1,0.1120);">GO:0001764: neuron migration</div>
<div class="t" style="font-family:'DejaVu Sans',sans-serif;font-size:43.2px;font-weight:normal;color:#4a4a4a;-webkit-text-stroke:0.3px #4a4a4a;left:165.00px;top:77.66px;transform:scale(0.1,0.1120);">GO:0007369: gastrulation</div>
<div class="t" style="font-family:'DejaVu Sans',sans-serif;font-size:43.2px;font-weight:normal;color:#4a4a4a;-webkit-text-stroke:0.3px #4a4a4a;left:165.00px;top:82.91px;transform:scale(0.1,0.1120);">GO:0003206: cardiac chamber morphogenesis</div>
<div class="t" style="font-family:'DejaVu Sans',sans-serif;font-size:43.2px;font-weight:normal;color:#4a4a4a;-webkit-text-stroke:0.3px #4a4a4a;left:165.00px;top:88.16px;transform:scale(0.1,0.1120);">GO:0051953: negative regulation of amine transport</div>
<div class="t" style="font-family:'DejaVu Sans',sans-serif;font-size:43.2px;font-weight:normal;color:#4a4a4a;-webkit-text-stroke:0.3px #4a4a4a;left:165.00px;top:93.41px;transform:scale(0.1,0.1120);">GO:0048589: developmental growth</div>
<div class="t" style="font-family:'DejaVu Sans',sans-serif;font-size:43.2px;font-weight:normal;color:#4a4a4a;-webkit-text-stroke:0.3px #4a4a4a;left:165.00px;top:98.66px;transform:scale(0.1,0.1120);">GO:0015893: drug transport</div>
<div class="t" style="font-family:'DejaVu Sans',sans-serif;font-size:43.2px;font-weight:normal;color:#4a4a4a;-webkit-text-stroke:0.3px #4a4a4a;left:165.00px;top:103.91px;transform:scale(0.1,0.1120);">GO:0003006: developmental process involved in reproduction</div>
<div class="t" style="font-family:'DejaVu Sans',sans-serif;font-size:43.2px;font-weight:normal;color:#4a4a4a;-webkit-text-stroke:0.3px #4a4a4a;left:165.00px;top:109.16px;transform:scale(0.1,0.1120);">GO:0045777: positive regulation of blood pressure</div>
<div class="t" style="font-family:'DejaVu Sans',sans-serif;font-size:43.2px;font-weight:normal;color:#4a4a4a;-webkit-text-stroke:0.3px #4a4a4a;left:165.00px;top:114.41px;transform:scale(0.1,0.1120);">GO:0048538: thymus development</div>
<div class="t" style="font-family:'DejaVu Sans',sans-serif;font-size:43.2px;font-weight:normal;color:#4a4a4a;-webkit-text-stroke:0.3px #4a4a4a;left:165.00px;top:119.66px;transform:scale(0.1,0.1120);">GO:0009791: post-embryonic development</div>
<div class="t" style="font-family:'DejaVu Sans',sans-serif;font-size:43.2px;font-weight:normal;color:#4a4a4a;-webkit-text-stroke:0.3px #4a4a4a;left:165.00px;top:124.91px;transform:scale(0.1,0.1120);">GO:0050905: neuromuscular process</div>
<div class="t" style="font-family:'Liberation Sans',Arial,sans-serif;font-size:52.5px;font-weight:bold;color:#000;-webkit-text-stroke:2.0px #000;left:22.60px;top:164.86px;transform:scale(0.1,0.1000);">Gene Body Metascape Summary</div>
<div class="t" style="font-family:'DejaVu Sans',sans-serif;font-size:43.0px;font-weight:normal;color:#333;-webkit-text-stroke:0.5px #333;left:18.10px;top:286.08px;transform:scale(0.1,0.1120) translateX(-50%);">0</div>
<div class="t" style="font-family:'DejaVu Sans',sans-serif;font-size:43.0px;font-weight:normal;color:#333;-webkit-text-stroke:0.5px #333;left:38.30px;top:286.08px;transform:scale(0.1,0.1120) translateX(-50%);">5</div>
<div class="t" style="font-family:'DejaVu Sans',sans-serif;font-size:43.0px;font-weight:normal;color:#333;-webkit-text-stroke:0.5px #333;left:58.50px;top:286.08px;transform:scale(0.1,0.1120) translateX(-50%);">10</div>
<div class="t" style="font-family:'DejaVu Sans',sans-serif;font-size:43.0px;font-weight:normal;color:#333;-webkit-text-stroke:0.5px #333;left:78.70px;top:286.08px;transform:scale(0.1,0.1120) translateX(-50%);">15</div>
<div class="t" style="font-family:'DejaVu Sans',sans-serif;font-size:43.0px;font-weight:normal;color:#333;-webkit-text-stroke:0.5px #333;left:98.90px;top:286.08px;transform:scale(0.1,0.1120) translateX(-50%);">20</div>
<div class="t" style="font-family:'DejaVu Sans',sans-serif;font-size:43.0px;font-weight:normal;color:#333;-webkit-text-stroke:0.5px #333;left:119.10px;top:286.08px;transform:scale(0.1,0.1120) translateX(-50%);">25</div>
<div class="t" style="font-family:'DejaVu Sans',sans-serif;font-size:43.0px;font-weight:normal;color:#333;-webkit-text-stroke:0.5px #333;left:139.30px;top:286.08px;transform:scale(0.1,0.1120) translateX(-50%);">30</div>
<div class="t" style="font-family:'DejaVu Sans',sans-serif;font-size:43.0px;font-weight:normal;color:#333;-webkit-text-stroke:0.5px #333;left:159.50px;top:286.08px;transform:scale(0.1,0.1120) translateX(-50%);">35</div>
<div class="t" style="font-family:'DejaVu Sans',sans-serif;font-size:42.5px;font-weight:normal;color:#222;-webkit-text-stroke:1.2px #222;left:91.40px;top:291.82px;transform:scale(0.1,0.1120) translateX(-50%);">-log10(P)</div>
<div class="t" style="font-family:'DejaVu Sans',sans-serif;font-size:43.2px;font-weight:normal;color:#4a4a4a;-webkit-text-stroke:0.3px #4a4a4a;left:165.00px;top:176.26px;transform:scale(0.1,0.1120);">GO:0007389: pattern specification process</div>
<div class="t" style="font-family:'DejaVu Sans',sans-serif;font-size:43.2px;font-weight:normal;color:#4a4a4a;-webkit-text-stroke:0.3px #4a4a4a;left:165.00px;top:181.51px;transform:scale(0.1,0.1120);">GO:0048729: tissue morphogenesis</div>
<div class="t" style="font-family:'DejaVu Sans',sans-serif;font-size:43.2px;font-weight:normal;color:#4a4a4a;-webkit-text-stroke:0.3px #4a4a4a;left:165.00px;top:186.76px;transform:scale(0.1,0.1120);">GO:0045165: cell fate commitment</div>
<div class="t" style="font-family:'DejaVu Sans',sans-serif;font-size:43.2px;font-weight:normal;color:#4a4a4a;-webkit-text-stroke:0.3px #4a4a4a;left:165.00px;top:192.01px;transform:scale(0.1,0.1120);">GO:0060485: mesenchyme development</div>
<div class="t" style="font-family:'DejaVu Sans',sans-serif;font-size:43.2px;font-weight:normal;color:#4a4a4a;-webkit-text-stroke:0.3px #4a4a4a;left:165.00px;top:197.26px;transform:scale(0.1,0.1120);">GO:0045664: regulation of neuron differentiation</div>
<div class="t" style="font-family:'DejaVu Sans',sans-serif;font-size:43.2px;font-weight:normal;color:#4a4a4a;-webkit-text-stroke:0.3px #4a4a4a;left:165.00px;top:202.51px;transform:scale(0.1,0.1120);">GO:0007423: sensory organ development</div>
<div class="t" style="font-family:'DejaVu Sans',sans-serif;font-size:43.2px;font-weight:normal;color:#4a4a4a;-webkit-text-stroke:0.3px #4a4a4a;left:165.00px;top:207.76px;transform:scale(0.1,0.1120);">GO:0045596: negative regulation of cell differentiation</div>
<div class="t" style="font-family:'DejaVu Sans',sans-serif;font-size:43.2px;font-weight:normal;color:#4a4a4a;-webkit-text-stroke:0.3px #4a4a4a;left:165.00px;top:213.01px;transform:scale(0.1,0.1120);">GO:0061061: muscle structure development</div>
<div class="t" style="font-family:'DejaVu Sans',sans-serif;font-size:43.2px;font-weight:normal;color:#4a4a4a;-webkit-text-stroke:0.3px #4a4a4a;left:165.00px;top:218.26px;transform:scale(0.1,0.1120);">GO:0003007: heart morphogenesis</div>
<div class="t" style="font-family:'DejaVu Sans',sans-serif;font-size:43.2px;font-weight:normal;color:#4a4a4a;-webkit-text-stroke:0.3px #4a4a4a;left:165.00px;top:223.51px;transform:scale(0.1,0.1120);">GO:0007420: brain development</div>
<div class="t" style="font-family:'DejaVu Sans',sans-serif;font-size:43.2px;font-weight:normal;color:#4a4a4a;-webkit-text-stroke:0.3px #4a4a4a;left:165.00px;top:228.76px;transform:scale(0.1,0.1120);">GO:0035270: endocrine system development</div>
<div class="t" style="font-family:'DejaVu Sans',sans-serif;font-size:43.2px;font-weight:normal;color:#4a4a4a;-webkit-text-stroke:0.3px #4a4a4a;left:165.00px;top:234.01px;transform:scale(0.1,0.1120);">GO:0048514: blood vessel morphogenesis</div>
<div class="t" style="font-family:'DejaVu Sans',sans-serif;font-size:43.2px;font-weight:normal;color:#4a4a4a;-webkit-text-stroke:0.3px #4a4a4a;left:165.00px;top:239.26px;transform:scale(0.1,0.1120);">GO:0021953: central nervous system neuron differentiation</div>
<div class="t" style="font-family:'DejaVu Sans',sans-serif;font-size:43.2px;font-weight:normal;color:#4a4a4a;-webkit-text-stroke:0.3px #4a4a4a;left:165.00px;top:244.51px;transform:scale(0.1,0.1120);">GO:0051216: cartilage development</div>
<div class="t" style="font-family:'DejaVu Sans',sans-serif;font-size:43.2px;font-weight:normal;color:#4a4a4a;-webkit-text-stroke:0.3px #4a4a4a;left:165.00px;top:249.76px;transform:scale(0.1,0.1120);">GO:0043583: ear development</div>
<div class="t" style="font-family:'DejaVu Sans',sans-serif;font-size:43.2px;font-weight:normal;color:#4a4a4a;-webkit-text-stroke:0.3px #4a4a4a;left:165.00px;top:255.01px;transform:scale(0.1,0.1120);">GO:0009954: proximal/distal pattern formation</div>
<div class="t" style="font-family:'DejaVu Sans',sans-serif;font-size:43.2px;font-weight:normal;color:#4a4a4a;-webkit-text-stroke:0.3px #4a4a4a;left:165.00px;top:260.26px;transform:scale(0.1,0.1120);">GO:0007498: mesoderm development</div>
<div class="t" style="font-family:'DejaVu Sans',sans-serif;font-size:43.2px;font-weight:normal;color:#4a4a4a;-webkit-text-stroke:0.3px #4a4a4a;left:165.00px;top:265.51px;transform:scale(0.1,0.1120);">GO:0071363: cellular response to growth factor stimulus</div>
<div class="t" style="font-family:'DejaVu Sans',sans-serif;font-size:43.2px;font-weight:normal;color:#4a4a4a;-webkit-text-stroke:0.3px #4a4a4a;left:165.00px;top:270.76px;transform:scale(0.1,0.1120);">GO:0003006: developmental process involved in reproduction</div>
<div class="t" style="font-family:'DejaVu Sans',sans-serif;font-size:43.2px;font-weight:normal;color:#4a4a4a;-webkit-text-stroke:0.3px #4a4a4a;left:165.00px;top:276.01px;transform:scale(0.1,0.1120);">GO:0030856: regulation of epithelial cell differentiation</div>
<div class="t" style="font-family:'Liberation Sans',Arial,sans-serif;font-size:49.0px;font-weight:bold;color:#000;-webkit-text-stroke:2.0px #000;left:318.50px;top:14.55px;transform:scale(0.1,0.1000);">ENCODE and ChEA Consensus TFs</div>
<div class="t" style="font-family:'Liberation Sans',Arial,sans-serif;font-size:41.4px;font-weight:bold;color:#000;-webkit-text-stroke:2.0px #000;left:360.40px;top:26.00px;transform:scale(0.1,0.1000) translateX(-50%);">Gene Promoter</div>
<div class="t" style="font-family:'Liberation Sans',Arial,sans-serif;font-size:39.0px;font-weight:bold;color:#111;-webkit-text-stroke:2.0px #111;right:207.60px;top:32.64px;transform-origin:100% 0;transform:scale(0.1,0.1100);">SUZ12 CHEA</div>
<div class="t" style="font-family:'Liberation Sans',Arial,sans-serif;font-size:39.0px;font-weight:bold;color:#111;-webkit-text-stroke:2.0px #111;right:207.60px;top:38.69px;transform-origin:100% 0;transform:scale(0.1,0.1100);">SUZ12 ENCODE</div>
<div class="t" style="font-family:'Liberation Sans',Arial,sans-serif;font-size:41.4px;font-weight:bold;color:#000;-webkit-text-stroke:2.0px #000;left:360.40px;top:52.30px;transform:scale(0.1,0.1000) translateX(-50%);">Gene Body</div>
<div class="t" style="font-family:'Liberation Sans',Arial,sans-serif;font-size:39.0px;font-weight:bold;color:#111;-webkit-text-stroke:2.0px #111;right:207.60px;top:58.42px;transform-origin:100% 0;transform:scale(0.1,0.1100);">SUZ12 CHEA</div>
<div class="t" style="font-family:'Liberation Sans',Arial,sans-serif;font-size:39.0px;font-weight:bold;color:#111;-webkit-text-stroke:2.0px #111;right:207.60px;top:64.83px;transform-origin:100% 0;transform:scale(0.1,0.1100);">EZH2 CHEA</div>
<div class="t" style="font-family:'Liberation Sans',Arial,sans-serif;font-size:39.0px;font-weight:bold;color:#111;-webkit-text-stroke:2.0px #111;right:207.60px;top:71.24px;transform-origin:100% 0;transform:scale(0.1,0.1100);">AR CHEA</div>
<div class="t" style="font-family:'Liberation Sans',Arial,sans-serif;font-size:39.0px;font-weight:bold;color:#111;-webkit-text-stroke:2.0px #111;right:207.60px;top:77.65px;transform-origin:100% 0;transform:scale(0.1,0.1100);">SMAD4 CHEA</div>
<div class="t" style="font-family:'Liberation Sans',Arial,sans-serif;font-size:39.0px;font-weight:bold;color:#111;-webkit-text-stroke:2.0px #111;right:207.60px;top:84.06px;transform-origin:100% 0;transform:scale(0.1,0.1100);">REST CHEA</div>
<div class="t" style="font-family:'Liberation Sans',Arial,sans-serif;font-size:39.0px;font-weight:bold;color:#111;-webkit-text-stroke:2.0px #111;right:207.60px;top:90.47px;transform-origin:100% 0;transform:scale(0.1,0.1100);">TRIM28 CHEA</div>
<div class="t" style="font-family:'Liberation Sans',Arial,sans-serif;font-size:39.0px;font-weight:bold;color:#111;-webkit-text-stroke:2.0px #111;right:207.60px;top:96.88px;transform-origin:100% 0;transform:scale(0.1,0.1100);">SUZ12 ENCODE</div>
<div class="t" style="font-family:'Liberation Sans',Arial,sans-serif;font-size:39.0px;font-weight:bold;color:#111;-webkit-text-stroke:2.0px #111;right:207.60px;top:103.29px;transform-origin:100% 0;transform:scale(0.1,0.1100);">TCF3 CHEA</div>
<div class="t" style="font-family:'Liberation Sans',Arial,sans-serif;font-size:38.5px;font-weight:bold;color:#000;-webkit-text-stroke:2.0px #000;left:384.00px;top:32.34px;transform:scale(0.1,0.1000);">Colour Key</div>
<div class="t" style="font-family:'Liberation Sans',Arial,sans-serif;font-size:43.0px;font-weight:normal;color:#333;-webkit-text-stroke:1.2px #333;left:392.20px;top:52.61px;transform:scale(0.1,0.1000);">800</div>
<div class="t" style="font-family:'Liberation Sans',Arial,sans-serif;font-size:43.0px;font-weight:normal;color:#333;-webkit-text-stroke:1.2px #333;left:392.20px;top:66.51px;transform:scale(0.1,0.1000);">600</div>
<div class="t" style="font-family:'Liberation Sans',Arial,sans-serif;font-size:43.0px;font-weight:normal;color:#333;-webkit-text-stroke:1.2px #333;left:392.20px;top:80.21px;transform:scale(0.1,0.1000);">400</div>
<div class="t" style="font-family:'Liberation Sans',Arial,sans-serif;font-size:43.0px;font-weight:normal;color:#333;-webkit-text-stroke:1.2px #333;left:392.20px;top:93.51px;transform:scale(0.1,0.1000);">200</div>
<div class="t" style="font-family:'Liberation Sans',Arial,sans-serif;font-size:43.0px;font-weight:bold;color:#000;-webkit-text-stroke:2.0px #000;left:404.10px;top:74.00px;transform:rotate(-90deg) scale(0.1,0.1000) translate(-50%,-50%);">Combined Score</div>
<div class="t" style="font-family:'Liberation Sans',Arial,sans-serif;font-size:51.0px;font-weight:bold;color:#000;-webkit-text-stroke:2.0px #000;left:322.40px;top:125.89px;transform:scale(0.1,0.1000);">TRANSFAC and JASPAR PWMs</div>
<div class="t" style="font-family:'Liberation Sans',Arial,sans-serif;font-size:41.4px;font-weight:bold;color:#000;-webkit-text-stroke:2.0px #000;left:359.80px;top:138.90px;transform:scale(0.1,0.1000) translateX(-50%);">Gene Promoter</div>
<div class="t" style="font-family:'Liberation Sans',Arial,sans-serif;font-size:39.0px;font-weight:bold;color:#111;-webkit-text-stroke:2.0px #111;right:207.60px;top:144.45px;transform-origin:100% 0;transform:scale(0.1,0.1150);">SP1</div>
<div class="t" style="font-family:'Liberation Sans',Arial,sans-serif;font-size:39.0px;font-weight:bold;color:#111;-webkit-text-stroke:2.0px #111;right:207.60px;top:149.92px;transform-origin:100% 0;transform:scale(0.1,0.1150);">SP3</div>
<div class="t" style="font-family:'Liberation Sans',Arial,sans-serif;font-size:39.0px;font-weight:bold;color:#111;-webkit-text-stroke:2.0px #111;right:207.60px;top:155.39px;transform-origin:100% 0;transform:scale(0.1,0.1150);">TFAP2A</div>
<div class="t" style="font-family:'Liberation Sans',Arial,sans-serif;font-size:39.0px;font-weight:bold;color:#111;-webkit-text-stroke:2.0px #111;right:207.60px;top:160.86px;transform-origin:100% 0;transform:scale(0.1,0.1150);">PCBP1</div>
<div class="t" style="font-family:'Liberation Sans',Arial,sans-serif;font-size:39.0px;font-weight:bold;color:#111;-webkit-text-stroke:2.0px #111;right:207.60px;top:166.33px;transform-origin:100% 0;transform:scale(0.1,0.1150);">TEAD4</div>
<div class="t" style="font-family:'Liberation Sans',Arial,sans-serif;font-size:39.0px;font-weight:bold;color:#111;-webkit-text-stroke:2.0px #111;right:207.60px;top:171.80px;transform-origin:100% 0;transform:scale(0.1,0.1150);">TCFAP2A</div>
<div class="t" style="font-family:'Liberation Sans',Arial,sans-serif;font-size:39.0px;font-weight:bold;color:#111;-webkit-text-stroke:2.0px #111;right:207.60px;top:177.27px;transform-origin:100% 0;transform:scale(0.1,0.1150);">HINFP</div>
<div class="t" style="font-family:'Liberation Sans',Arial,sans-serif;font-size:39.0px;font-weight:bold;color:#111;-webkit-text-stroke:2.0px #111;right:207.60px;top:182.74px;transform-origin:100% 0;transform:scale(0.1,0.1150);">WT1</div>
<div class="t" style="font-family:'Liberation Sans',Arial,sans-serif;font-size:39.0px;font-weight:bold;color:#111;-webkit-text-stroke:2.0px #111;right:207.60px;top:188.21px;transform-origin:100% 0;transform:scale(0.1,0.1150);">E2F6</div>
<div class="t" style="font-family:'Liberation Sans',Arial,sans-serif;font-size:39.0px;font-weight:bold;color:#111;-webkit-text-stroke:2.0px #111;right:207.60px;top:193.68px;transform-origin:100% 0;transform:scale(0.1,0.1150);">ZBTB7A</div>
<div class="t" style="font-family:'Liberation Sans',Arial,sans-serif;font-size:39.0px;font-weight:bold;color:#111;-webkit-text-stroke:2.0px #111;right:207.60px;top:199.15px;transform-origin:100% 0;transform:scale(0.1,0.1150);">E2F1</div>
<div class="t" style="font-family:'Liberation Sans',Arial,sans-serif;font-size:39.0px;font-weight:bold;color:#111;-webkit-text-stroke:2.0px #111;right:207.60px;top:204.62px;transform-origin:100% 0;transform:scale(0.1,0.1150);">TEAD2</div>
<div class="t" style="font-family:'Liberation Sans',Arial,sans-serif;font-size:41.4px;font-weight:bold;color:#000;-webkit-text-stroke:2.0px #000;left:359.80px;top:215.00px;transform:scale(0.1,0.1000) translateX(-50%);">Gene Body</div>
<div class="t" style="font-family:'Liberation Sans',Arial,sans-serif;font-size:39.0px;font-weight:bold;color:#111;-webkit-text-stroke:2.0px #111;right:207.60px;top:221.84px;transform-origin:100% 0;transform:scale(0.1,0.1150);">MTF1</div>
<div class="t" style="font-family:'Liberation Sans',Arial,sans-serif;font-size:39.0px;font-weight:bold;color:#111;-webkit-text-stroke:2.0px #111;right:207.60px;top:227.28px;transform-origin:100% 0;transform:scale(0.1,0.1150);">TFAP2A</div>
<div class="t" style="font-family:'Liberation Sans',Arial,sans-serif;font-size:39.0px;font-weight:bold;color:#111;-webkit-text-stroke:2.0px #111;right:207.60px;top:232.72px;transform-origin:100% 0;transform:scale(0.1,0.1150);">ZBTB7A</div>
<div class="t" style="font-family:'Liberation Sans',Arial,sans-serif;font-size:39.0px;font-weight:bold;color:#111;-webkit-text-stroke:2.0px #111;right:207.60px;top:238.16px;transform-origin:100% 0;transform:scale(0.1,0.1150);">REPIN1</div>
<div class="t" style="font-family:'Liberation Sans',Arial,sans-serif;font-size:39.0px;font-weight:bold;color:#111;-webkit-text-stroke:2.0px #111;right:207.60px;top:243.60px;transform-origin:100% 0;transform:scale(0.1,0.1150);">E2F6</div>
<div class="t" style="font-family:'Liberation Sans',Arial,sans-serif;font-size:39.0px;font-weight:bold;color:#111;-webkit-text-stroke:2.0px #111;right:207.60px;top:249.04px;transform-origin:100% 0;transform:scale(0.1,0.1150);">TEAD2</div>
<div class="t" style="font-family:'Liberation Sans',Arial,sans-serif;font-size:39.0px;font-weight:bold;color:#111;-webkit-text-stroke:2.0px #111;right:207.60px;top:254.48px;transform-origin:100% 0;transform:scale(0.1,0.1150);">TCFAP2A</div>
<div class="t" style="font-family:'Liberation Sans',Arial,sans-serif;font-size:39.0px;font-weight:bold;color:#111;-webkit-text-stroke:2.0px #111;right:207.60px;top:259.92px;transform-origin:100% 0;transform:scale(0.1,0.1150);">SP1</div>
<div class="t" style="font-family:'Liberation Sans',Arial,sans-serif;font-size:39.0px;font-weight:bold;color:#111;-webkit-text-stroke:2.0px #111;right:207.60px;top:265.36px;transform-origin:100% 0;transform:scale(0.1,0.1150);">MIR133B</div>
<div class="t" style="font-family:'Liberation Sans',Arial,sans-serif;font-size:39.0px;font-weight:bold;color:#111;-webkit-text-stroke:2.0px #111;right:207.60px;top:270.80px;transform-origin:100% 0;transform:scale(0.1,0.1150);">TEAD4</div>
<div class="t" style="font-family:'Liberation Sans',Arial,sans-serif;font-size:39.0px;font-weight:bold;color:#111;-webkit-text-stroke:2.0px #111;right:207.60px;top:276.24px;transform-origin:100% 0;transform:scale(0.1,0.1150);">MIR138</div>
<div class="t" style="font-family:'Liberation Sans',Arial,sans-serif;font-size:39.0px;font-weight:bold;color:#111;-webkit-text-stroke:2.0px #111;right:207.60px;top:281.68px;transform-origin:100% 0;transform:scale(0.1,0.1150);">HINFP</div>
<div class="t" style="font-family:'Liberation Sans',Arial,sans-serif;font-size:39.0px;font-weight:bold;color:#111;-webkit-text-stroke:2.0px #111;right:207.60px;top:287.12px;transform-origin:100% 0;transform:scale(0.1,0.1150);">ZNF281</div>
<div class="t" style="font-family:'Liberation Sans',Arial,sans-serif;font-size:39.0px;font-weight:bold;color:#111;-webkit-text-stroke:2.0px #111;right:207.60px;top:292.56px;transform-origin:100% 0;transform:scale(0.1,0.1150);">E2F1</div>
<div class="t" style="font-family:'Liberation Sans',Arial,sans-serif;font-size:38.5px;font-weight:bold;color:#000;-webkit-text-stroke:2.0px #000;left:384.30px;top:145.24px;transform:scale(0.1,0.1000);">Colour Key</div>
<div class="t" style="font-family:'Liberation Sans',Arial,sans-serif;font-size:47.0px;font-weight:normal;color:#333;-webkit-text-stroke:1.2px #333;left:391.80px;top:179.62px;transform:scale(0.1,0.1000);">60</div>
<div class="t" style="font-family:'Liberation Sans',Arial,sans-serif;font-size:47.0px;font-weight:normal;color:#333;-webkit-text-stroke:1.2px #333;left:391.80px;top:211.92px;transform:scale(0.1,0.1000);">40</div>
<div class="t" style="font-family:'Liberation Sans',Arial,sans-serif;font-size:47.0px;font-weight:normal;color:#333;-webkit-text-stroke:1.2px #333;left:391.80px;top:244.32px;transform:scale(0.1,0.1000);">20</div>
<div class="t" style="font-family:'Liberation Sans',Arial,sans-serif;font-size:43.0px;font-weight:bold;color:#000;-webkit-text-stroke:2.0px #000;left:404.00px;top:210.40px;transform:rotate(-90deg) scale(0.1,0.1000) translate(-50%,-50%);">Combined Score</div>
<div class="t" style="font-family:'Liberation Sans',Arial,sans-serif;font-size:52.0px;font-weight:bold;color:#000;-webkit-text-stroke:2.0px #000;left:434.90px;top:13.60px;transform:scale(0.1,0.1000);">Histone Modifications</div>
<div class="t" style="font-family:'Liberation Sans',Arial,sans-serif;font-size:40.7px;font-weight:bold;color:#000;-webkit-text-stroke:2.0px #000;left:441.10px;top:25.56px;transform:scale(0.1,0.1000) translateX(-50%);">Gene Promoter</div>
<div class="t" style="font-family:'Liberation Sans',Arial,sans-serif;font-size:40.7px;font-weight:bold;color:#000;-webkit-text-stroke:2.0px #000;left:485.60px;top:25.56px;transform:scale(0.1,0.1000) translateX(-50%);">Gene Body</div>
<div class="t" style="font-family:'Liberation Sans',Arial,sans-serif;font-size:37.0px;font-weight:bold;color:#000;-webkit-text-stroke:2.0px #000;left:508.60px;top:32.97px;transform:scale(0.1,0.1000);">Colour Key</div>
<div class="t" style="font-family:'Liberation Sans',Arial,sans-serif;font-size:39.0px;font-weight:normal;color:#333;-webkit-text-stroke:1.2px #333;left:516.70px;top:42.60px;transform:scale(0.1,0.1000);">250</div>
<div class="t" style="font-family:'Liberation Sans',Arial,sans-serif;font-size:39.0px;font-weight:normal;color:#333;-webkit-text-stroke:1.2px #333;left:516.70px;top:65.70px;transform:scale(0.1,0.1000);">200</div>
<div class="t" style="font-family:'Liberation Sans',Arial,sans-serif;font-size:39.0px;font-weight:normal;color:#333;-webkit-text-stroke:1.2px #333;left:516.70px;top:88.90px;transform:scale(0.1,0.1000);">150</div>
<div class="t" style="font-family:'Liberation Sans',Arial,sans-serif;font-size:39.0px;font-weight:normal;color:#333;-webkit-text-stroke:1.2px #333;left:516.70px;top:112.00px;transform:scale(0.1,0.1000);">100</div>
<div class="t" style="font-family:'Liberation Sans',Arial,sans-serif;font-size:39.0px;font-weight:normal;color:#333;-webkit-text-stroke:1.2px #333;left:516.70px;top:135.00px;transform:scale(0.1,0.1000);">50</div>
<div class="t" style="font-family:'Liberation Sans',Arial,sans-serif;font-size:36.0px;font-weight:bold;color:#000;-webkit-text-stroke:2.0px #000;left:529.60px;top:103.20px;transform:rotate(-90deg) scale(0.1,0.1000) translate(-50%,-50%);">Combined Score</div>
<div class="t" style="font-family:'Liberation Sans',Arial,sans-serif;font-size:36.0px;font-weight:bold;color:#333;-webkit-text-stroke:0.6px #333;left:508.40px;top:169.75px;transform:scale(0.1,0.1000);">Histone modifications</div>
<div class="t" style="font-family:'Liberation Sans',Arial,sans-serif;font-size:36.0px;font-weight:bold;color:#333;-webkit-text-stroke:1.4px #333;left:516.00px;top:177.36px;transform:scale(0.1,0.1180);">H3K27me3</div>
<div class="t" style="font-family:'Liberation Sans',Arial,sans-serif;font-size:36.0px;font-weight:bold;color:#333;-webkit-text-stroke:1.4px #333;left:516.00px;top:183.62px;transform:scale(0.1,0.1180);">H3K4me1</div>
<div class="t" style="font-family:'Liberation Sans',Arial,sans-serif;font-size:36.0px;font-weight:bold;color:#333;-webkit-text-stroke:1.4px #333;left:516.00px;top:189.88px;transform:scale(0.1,0.1180);">H3K9me3</div>
<div class="t" style="font-family:'Liberation Sans',Arial,sans-serif;font-size:36.0px;font-weight:bold;color:#333;-webkit-text-stroke:1.4px #333;left:516.00px;top:196.14px;transform:scale(0.1,0.1180);">H4K20me1</div>
<div class="t" style="font-family:'Liberation Sans',Arial,sans-serif;font-size:36.0px;font-weight:bold;color:#333;-webkit-text-stroke:1.4px #333;left:516.00px;top:202.40px;transform:scale(0.1,0.1180);">H3K36me3</div>
<div class="t" style="font-family:'Liberation Sans',Arial,sans-serif;font-size:36.0px;font-weight:bold;color:#333;-webkit-text-stroke:1.4px #333;left:516.00px;top:208.66px;transform:scale(0.1,0.1180);">H2BK20ac</div>
</body></html>
